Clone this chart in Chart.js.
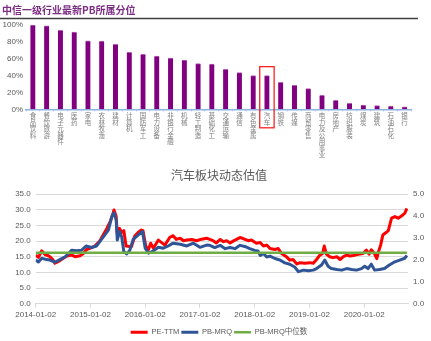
<!DOCTYPE html>
<html><head><meta charset="utf-8">
<script src="https://cdn.jsdelivr.net/npm/chart.js@4/dist/chart.umd.min.js"></script>
<style>
html,body{margin:0;padding:0;width:431px;height:341px;overflow:hidden;background:#fff;}
#c1{position:absolute;left:0;top:0;}
#c2{position:absolute;left:0;top:160px;}
</style></head><body>
<canvas id="c1" width="431" height="160"></canvas>
<canvas id="c2" width="431" height="186"></canvas>
<script>
// ---------- Top chart data ----------
const topTitle = '中信一级行业最新PB所属分位';
const industries = ['食品饮料','餐饮旅游','电子元器件','医药','家电','农林牧渔','建材','计算机','国防军工','电力设备','非银行金融','机械','轻工制造','基础化工','交通运输','通信','有色金属','汽车','钢铁','传媒','商贸零售','电力及公用事业','房地产','纺织服装','煤炭','建筑','石油石化','银行'];
const pbPercentile = [99.5,98.8,93.3,91.3,81.0,80.7,76.8,67.3,65.0,63.0,60.6,58.3,54.0,53.5,47.2,43.3,39.8,39.8,31.9,28.3,24.4,16.5,10.6,7.0,5.1,4.3,3.9,2.8];
const highlighted = '汽车';
const pctTicks = [0,20,40,60,80,100];

// ---------- Bottom chart data ----------
const bottomTitle = '汽车板块动态估值';
const yearTicks = [2014,2015,2016,2017,2018,2019,2020];
const peYears = [2014.00,2014.05,2014.11,2014.17,2014.23,2014.26,2014.32,2014.35,2014.41,2014.47,2014.57,2014.66,2014.72,2014.81,2014.87,2014.93,
2015.02,2015.08,2015.17,2015.24,2015.30,2015.36,2015.41,2015.43,2015.47,2015.49,2015.53,2015.57,2015.61,2015.65,2015.75,2015.81,2015.87,2015.93,2015.96,
2016.01,2016.06,2016.10,2016.15,2016.24,2016.30,2016.36,2016.45,2016.51,2016.57,2016.64,2016.70,2016.76,2016.85,2016.94,
2017.01,2017.12,2017.18,2017.24,2017.30,2017.37,2017.43,2017.49,2017.55,2017.64,2017.73,2017.79,2017.88,2017.94,
2018.03,2018.10,2018.16,2018.22,2018.28,2018.37,2018.43,2018.49,2018.58,2018.64,2018.70,2018.77,2018.83,2018.92,
2019.01,2019.07,2019.13,2019.19,2019.24,2019.27,2019.31,2019.37,2019.43,2019.50,2019.56,2019.62,2019.68,2019.74,2019.80,2019.89,2019.98,
2020.04,2020.09,2020.13,2020.18,2020.23,2020.26,2020.30,2020.34,2020.40,2020.44,2020.50,2020.56,2020.62,2020.68,2020.74,2020.78];
const peValues = [15.5,14.8,16.9,15.7,15.3,15.0,13.9,12.9,13.4,14.1,15.2,15.5,15.0,15.3,16.0,17.3,
17.9,18.4,20.0,22.2,24.0,26.2,28.6,29.9,27.8,22.4,24.0,22.7,23.3,18.4,18.2,21.6,22.7,23.5,23.3,
18.4,17.3,19.3,17.7,20.3,19.5,18.7,21.2,21.7,20.5,20.9,20.1,20.3,20.5,20.1,
20.5,20.9,20.5,20.1,19.4,20.5,19.8,20.1,19.4,20.3,21.1,20.8,20.1,20.3,
19.3,19.5,18.4,18.7,17.6,17.3,17.6,16.0,15.0,13.9,14.1,12.7,13.1,12.9,
13.1,12.9,14.1,15.5,16.0,18.4,15.8,15.0,14.7,15.0,14.1,15.0,15.5,15.2,15.4,15.8,16.0,
17.1,15.8,17.2,16.2,14.4,16.5,18.7,21.9,22.7,23.3,27.3,27.8,27.3,28.0,28.8,30.4];
const pbYears = [2014.00,2014.05,2014.11,2014.20,2014.26,2014.35,2014.44,2014.54,2014.66,2014.75,2014.84,2014.92,
2015.02,2015.11,2015.17,2015.25,2015.33,2015.39,2015.43,2015.47,2015.49,2015.53,2015.57,2015.61,2015.66,2015.72,2015.78,2015.87,2015.95,
2016.00,2016.06,2016.15,2016.24,2016.33,2016.42,2016.51,2016.64,2016.76,2016.88,
2017.00,2017.12,2017.18,2017.27,2017.37,2017.46,2017.55,2017.64,2017.73,2017.82,2017.91,
2018.00,2018.06,2018.10,2018.16,2018.22,2018.28,2018.37,2018.46,2018.55,2018.64,2018.73,2018.80,2018.89,2018.98,
2019.07,2019.13,2019.22,2019.28,2019.34,2019.40,2019.50,2019.59,2019.68,2019.77,2019.86,2019.95,
2020.01,2020.07,2020.13,2020.19,2020.28,2020.37,2020.46,2020.56,2020.65,2020.74,2020.78];
const pbValues = [1.99,1.90,2.07,2.01,1.99,1.89,2.01,2.14,2.44,2.41,2.44,2.63,
2.56,2.63,2.83,3.09,3.36,3.97,4.14,3.81,2.90,3.29,3.06,2.37,2.27,2.44,2.93,3.13,3.29,
2.53,2.30,2.41,2.57,2.53,2.63,2.76,2.71,2.63,2.76,
2.57,2.67,2.66,2.56,2.66,2.51,2.56,2.51,2.66,2.61,2.51,
2.43,2.40,2.20,2.29,2.13,2.17,2.06,1.99,1.86,1.80,1.67,1.46,1.53,1.50,
1.53,1.60,1.76,1.99,1.71,1.60,1.56,1.53,1.60,1.56,1.53,1.60,
1.71,1.60,1.80,1.53,1.56,1.60,1.76,1.91,1.99,2.07,2.20];
const medianYears = [2014.00,2020.78];
const medianValues = [2.32,2.32];

const NUM = '"Liberation Sans", "Noto Sans CJK SC", sans-serif';
const CJK = '"Noto Sans CJK SC", sans-serif';

// ---------- Top chart ----------
const hrPlugin = {
  id:'hr',
  afterDraw(chart){
    const c = chart.ctx; c.save();
    c.strokeStyle = '#404040'; c.lineWidth = 1.5;
    c.beginPath(); c.moveTo(0,18.5); c.lineTo(418,18.5); c.stroke();
    c.restore();
  }
};
const boxPlugin = {
  id:'hlbox',
  afterDraw(chart){
    const idx = industries.indexOf(highlighted);
    const xs = chart.scales.x, ys = chart.scales.y;
    const cx = xs.getPixelForValue(idx);
    const top = ys.getPixelForValue(pbPercentile[idx]) - 9;
    const bottom = xs.top + 18.5;
    const c = chart.ctx; c.save();
    c.strokeStyle = '#ff2020'; c.lineWidth = 1.3;
    c.strokeRect(cx - 7.2, top, 14.4, bottom - top);
    c.restore();
  }
};

new Chart(document.getElementById('c1'), {
  type:'bar',
  data:{
    labels: industries.map(s => s.split('')),
    datasets:[{
      data: pbPercentile,
      backgroundColor:'#800080',
      borderColor:'#b060b0',
      borderWidth:{top:1,left:0,right:0,bottom:0},
      barThickness:5
    }]
  },
  options:{
    responsive:false, animation:false, devicePixelRatio:1,
    layout:{padding:{left:2,right:19.5,top:0,bottom:0}},
    plugins:{
      legend:{display:false}, tooltip:{enabled:false},
      title:{display:true, text:topTitle, align:'start', color:'#7b2c83',
        font:{family:CJK, size:10, weight:'bold', lineHeight:1.2}, padding:{top:4,bottom:8.7}}
    },
    scales:{
      x:{
        grid:{display:true, drawOnChartArea:false, drawTicks:true, tickLength:2, color:'#8db3e2'},
        border:{display:true, color:'#8db3e2', width:1.5},
        ticks:{color:'#808080', font:{family:CJK, size:6.5, lineHeight:1.0}, padding:1, autoSkip:false, maxRotation:0, minRotation:0},
        afterFit(s){ s.height = 50.7; }
      },
      y:{
        min:0, max:100,
        afterBuildTicks(s){ s.ticks = pctTicks.map(v => ({value:v})); },
        grid:{display:false, drawTicks:false, tickLength:0}, border:{display:false},
        ticks:{callback:v => v + '%', color:'#595959', font:{family:NUM, size:8}, padding:3},
        afterFit(s){ s.width = 24; }
      }
    }
  },
  plugins:[hrPlugin, boxPlugin]
});

// ---------- Bottom chart ----------
const toXY = (xs, ys) => xs.map((x,i) => ({x:x, y:ys[i]}));

new Chart(document.getElementById('c2'), {
  type:'line',
  data:{
    datasets:[
      {label:'PE-TTM', data:toXY(peYears,peValues), borderColor:'#ff0000', backgroundColor:'#ff0000', borderWidth:3, yAxisID:'y', order:3},
      {label:'PB-MRQ', data:toXY(pbYears,pbValues), borderColor:'#2f5597', backgroundColor:'#2f5597', borderWidth:3, yAxisID:'y1', order:2},
      {label:'PB-MRQ中位数', data:toXY(medianYears,medianValues), borderColor:'#70ad47', backgroundColor:'#70ad47', borderWidth:2.5, yAxisID:'y1', order:1}
    ]
  },
  options:{
    responsive:false, animation:false, devicePixelRatio:1,
    elements:{point:{radius:0}, line:{tension:0, borderJoinStyle:'round'}},
    layout:{padding:{left:7,right:0,top:0,bottom:0}},
    plugins:{
      tooltip:{enabled:false},
      title:{display:true, text:bottomTitle, color:'#595959',
        font:{family:CJK, size:12, weight:'normal', lineHeight:1.2}, padding:{top:7.8,bottom:11.8}},
      legend:{position:'bottom',
        labels:{usePointStyle:true, pointStyle:'line', pointStyleWidth:17, padding:2, color:'#595959',
          font:{family:NUM, size:7.5}, sort:(a,b) => a.datasetIndex - b.datasetIndex}}
    },
    scales:{
      x:{
        type:'linear', min:2014, max:2020.8,
        afterBuildTicks(s){ s.ticks = yearTicks.map(v => ({value:v})); },
        ticks:{callback:v => v + '-01-02', color:'#595959', font:{family:NUM, size:8}, padding:2, maxRotation:0, autoSkip:false},
        grid:{drawOnChartArea:false, drawTicks:true, tickLength:4, color:'#d9d9d9'},
        border:{color:'#d9d9d9'},
        afterFit(s){ s.height = 22.8; }
      },
      y:{
        position:'left', min:0, max:35,
        ticks:{stepSize:5, callback:v => Number(v).toFixed(1), color:'#595959', font:{family:NUM, size:8}, padding:5},
        grid:{color:'#d9d9d9', drawTicks:false}, border:{display:false},
        afterFit(s){ s.width = 28.7; }
      },
      y1:{
        position:'right', min:0, max:5,
        ticks:{stepSize:1, callback:v => Number(v).toFixed(1), color:'#595959', font:{family:NUM, size:8}, padding:5},
        grid:{display:false, drawTicks:false}, border:{display:false},
        afterFit(s){ s.width = 23; }
      }
    }
  }
});
</script>
</body></html>
